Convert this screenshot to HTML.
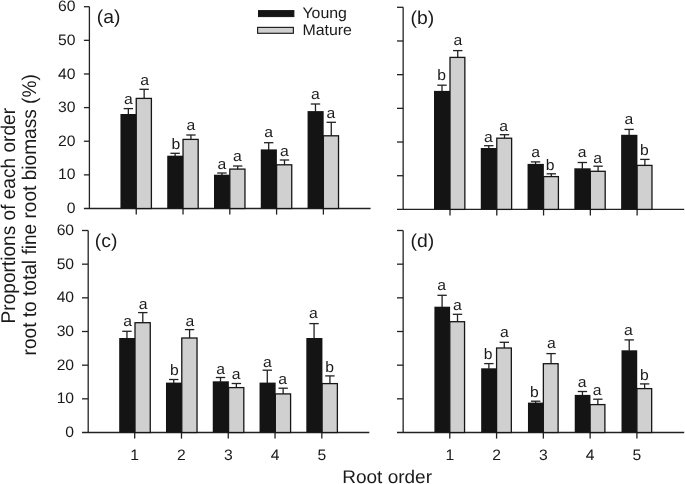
<!DOCTYPE html>
<html lang="en">
<head>
<meta charset="utf-8">
<title>Root order biomass proportions</title>
<style>
html,body{margin:0;padding:0;background:#fff;}
body{width:685px;height:484px;overflow:hidden;}
svg{display:block;}
text{font-family:"Liberation Sans", Arial, sans-serif;fill:#1a1a1a;text-rendering:geometricPrecision;}
.ln line{stroke:#222;stroke-width:1.3;fill:none;}
</style>
</head>
<body>
<svg width="685" height="484" viewBox="0 0 685 484">
<rect x="0" y="0" width="685" height="484" fill="#ffffff"/>
<g class="ln">
<line x1="128.35" y1="114.50" x2="128.35" y2="108.60"/>
<line x1="123.65" y1="108.60" x2="133.05" y2="108.60"/>
<line x1="144.15" y1="98.80" x2="144.15" y2="89.30"/>
<line x1="139.45" y1="89.30" x2="148.85" y2="89.30"/>
<line x1="175.13" y1="156.20" x2="175.13" y2="153.30"/>
<line x1="170.43" y1="153.30" x2="179.83" y2="153.30"/>
<line x1="190.93" y1="139.80" x2="190.93" y2="135.00"/>
<line x1="186.23" y1="135.00" x2="195.63" y2="135.00"/>
<line x1="221.91" y1="175.20" x2="221.91" y2="173.00"/>
<line x1="217.21" y1="173.00" x2="226.61" y2="173.00"/>
<line x1="237.71" y1="169.50" x2="237.71" y2="166.00"/>
<line x1="233.01" y1="166.00" x2="242.41" y2="166.00"/>
<line x1="268.69" y1="149.90" x2="268.69" y2="142.70"/>
<line x1="263.99" y1="142.70" x2="273.39" y2="142.70"/>
<line x1="284.49" y1="165.20" x2="284.49" y2="160.00"/>
<line x1="279.79" y1="160.00" x2="289.19" y2="160.00"/>
<line x1="315.47" y1="111.60" x2="315.47" y2="104.00"/>
<line x1="310.77" y1="104.00" x2="320.17" y2="104.00"/>
<line x1="331.27" y1="136.20" x2="331.27" y2="122.30"/>
<line x1="326.57" y1="122.30" x2="335.97" y2="122.30"/>
<line x1="89.40" y1="6.70" x2="89.40" y2="208.50"/>
<line x1="83.90" y1="208.50" x2="370.60" y2="208.50"/>
<line x1="83.90" y1="174.87" x2="89.40" y2="174.87"/>
<line x1="83.90" y1="141.23" x2="89.40" y2="141.23"/>
<line x1="83.90" y1="107.60" x2="89.40" y2="107.60"/>
<line x1="83.90" y1="73.97" x2="89.40" y2="73.97"/>
<line x1="83.90" y1="40.33" x2="89.40" y2="40.33"/>
<line x1="83.90" y1="6.70" x2="89.40" y2="6.70"/>
<line x1="136.25" y1="208.50" x2="136.25" y2="214.60"/>
<line x1="183.03" y1="208.50" x2="183.03" y2="214.60"/>
<line x1="229.81" y1="208.50" x2="229.81" y2="214.60"/>
<line x1="276.59" y1="208.50" x2="276.59" y2="214.60"/>
<line x1="323.37" y1="208.50" x2="323.37" y2="214.60"/>
<line x1="442.00" y1="91.40" x2="442.00" y2="85.20"/>
<line x1="437.30" y1="85.20" x2="446.70" y2="85.20"/>
<line x1="457.75" y1="57.80" x2="457.75" y2="50.60"/>
<line x1="453.05" y1="50.60" x2="462.45" y2="50.60"/>
<line x1="488.78" y1="148.50" x2="488.78" y2="145.70"/>
<line x1="484.08" y1="145.70" x2="493.48" y2="145.70"/>
<line x1="504.53" y1="138.60" x2="504.53" y2="134.70"/>
<line x1="499.83" y1="134.70" x2="509.23" y2="134.70"/>
<line x1="535.56" y1="164.40" x2="535.56" y2="161.90"/>
<line x1="530.86" y1="161.90" x2="540.26" y2="161.90"/>
<line x1="551.31" y1="177.00" x2="551.31" y2="173.80"/>
<line x1="546.61" y1="173.80" x2="556.01" y2="173.80"/>
<line x1="582.34" y1="168.80" x2="582.34" y2="162.50"/>
<line x1="577.64" y1="162.50" x2="587.04" y2="162.50"/>
<line x1="598.09" y1="171.70" x2="598.09" y2="166.20"/>
<line x1="593.39" y1="166.20" x2="602.79" y2="166.20"/>
<line x1="629.12" y1="135.30" x2="629.12" y2="129.40"/>
<line x1="624.42" y1="129.40" x2="633.82" y2="129.40"/>
<line x1="644.87" y1="165.80" x2="644.87" y2="159.40"/>
<line x1="640.17" y1="159.40" x2="649.57" y2="159.40"/>
<line x1="403.15" y1="7.30" x2="403.15" y2="209.40"/>
<line x1="397.00" y1="209.40" x2="684.20" y2="209.40"/>
<line x1="397.00" y1="175.72" x2="403.15" y2="175.72"/>
<line x1="397.00" y1="142.03" x2="403.15" y2="142.03"/>
<line x1="397.00" y1="108.35" x2="403.15" y2="108.35"/>
<line x1="397.00" y1="74.67" x2="403.15" y2="74.67"/>
<line x1="397.00" y1="40.98" x2="403.15" y2="40.98"/>
<line x1="397.00" y1="7.30" x2="403.15" y2="7.30"/>
<line x1="450.00" y1="209.40" x2="450.00" y2="215.50"/>
<line x1="496.78" y1="209.40" x2="496.78" y2="215.50"/>
<line x1="543.56" y1="209.40" x2="543.56" y2="215.50"/>
<line x1="590.34" y1="209.40" x2="590.34" y2="215.50"/>
<line x1="637.12" y1="209.40" x2="637.12" y2="215.50"/>
<line x1="126.95" y1="338.50" x2="126.95" y2="331.30"/>
<line x1="122.25" y1="331.30" x2="131.65" y2="331.30"/>
<line x1="142.80" y1="323.10" x2="142.80" y2="312.60"/>
<line x1="138.10" y1="312.60" x2="147.50" y2="312.60"/>
<line x1="173.73" y1="383.10" x2="173.73" y2="379.50"/>
<line x1="169.03" y1="379.50" x2="178.43" y2="379.50"/>
<line x1="189.58" y1="338.40" x2="189.58" y2="329.60"/>
<line x1="184.88" y1="329.60" x2="194.28" y2="329.60"/>
<line x1="220.51" y1="381.80" x2="220.51" y2="377.50"/>
<line x1="215.81" y1="377.50" x2="225.21" y2="377.50"/>
<line x1="236.36" y1="388.00" x2="236.36" y2="383.50"/>
<line x1="231.66" y1="383.50" x2="241.06" y2="383.50"/>
<line x1="267.29" y1="383.10" x2="267.29" y2="370.20"/>
<line x1="262.59" y1="370.20" x2="271.99" y2="370.20"/>
<line x1="283.14" y1="394.30" x2="283.14" y2="388.20"/>
<line x1="278.44" y1="388.20" x2="287.84" y2="388.20"/>
<line x1="314.07" y1="338.50" x2="314.07" y2="323.60"/>
<line x1="309.37" y1="323.60" x2="318.77" y2="323.60"/>
<line x1="329.92" y1="384.00" x2="329.92" y2="375.90"/>
<line x1="325.22" y1="375.90" x2="334.62" y2="375.90"/>
<line x1="88.20" y1="230.50" x2="88.20" y2="432.50"/>
<line x1="82.00" y1="432.50" x2="369.30" y2="432.50"/>
<line x1="82.00" y1="398.83" x2="88.20" y2="398.83"/>
<line x1="82.00" y1="365.17" x2="88.20" y2="365.17"/>
<line x1="82.00" y1="331.50" x2="88.20" y2="331.50"/>
<line x1="82.00" y1="297.83" x2="88.20" y2="297.83"/>
<line x1="82.00" y1="264.17" x2="88.20" y2="264.17"/>
<line x1="82.00" y1="230.50" x2="88.20" y2="230.50"/>
<line x1="134.70" y1="432.50" x2="134.70" y2="438.60"/>
<line x1="181.48" y1="432.50" x2="181.48" y2="438.60"/>
<line x1="228.26" y1="432.50" x2="228.26" y2="438.60"/>
<line x1="275.04" y1="432.50" x2="275.04" y2="438.60"/>
<line x1="321.82" y1="432.50" x2="321.82" y2="438.60"/>
<line x1="442.10" y1="307.20" x2="442.10" y2="295.30"/>
<line x1="437.40" y1="295.30" x2="446.80" y2="295.30"/>
<line x1="457.50" y1="322.10" x2="457.50" y2="314.30"/>
<line x1="452.80" y1="314.30" x2="462.20" y2="314.30"/>
<line x1="488.88" y1="368.80" x2="488.88" y2="363.60"/>
<line x1="484.18" y1="363.60" x2="493.58" y2="363.60"/>
<line x1="504.28" y1="348.40" x2="504.28" y2="342.30"/>
<line x1="499.58" y1="342.30" x2="508.98" y2="342.30"/>
<line x1="535.66" y1="403.10" x2="535.66" y2="401.20"/>
<line x1="530.96" y1="401.20" x2="540.36" y2="401.20"/>
<line x1="551.06" y1="364.10" x2="551.06" y2="353.60"/>
<line x1="546.36" y1="353.60" x2="555.76" y2="353.60"/>
<line x1="582.44" y1="395.40" x2="582.44" y2="391.50"/>
<line x1="577.74" y1="391.50" x2="587.14" y2="391.50"/>
<line x1="597.84" y1="405.00" x2="597.84" y2="399.20"/>
<line x1="593.14" y1="399.20" x2="602.54" y2="399.20"/>
<line x1="629.22" y1="350.80" x2="629.22" y2="339.90"/>
<line x1="624.52" y1="339.90" x2="633.92" y2="339.90"/>
<line x1="644.62" y1="389.00" x2="644.62" y2="383.90"/>
<line x1="639.92" y1="383.90" x2="649.32" y2="383.90"/>
<line x1="403.15" y1="230.50" x2="403.15" y2="432.50"/>
<line x1="397.00" y1="432.50" x2="684.20" y2="432.50"/>
<line x1="397.00" y1="398.83" x2="403.15" y2="398.83"/>
<line x1="397.00" y1="365.17" x2="403.15" y2="365.17"/>
<line x1="397.00" y1="331.50" x2="403.15" y2="331.50"/>
<line x1="397.00" y1="297.83" x2="403.15" y2="297.83"/>
<line x1="397.00" y1="264.17" x2="403.15" y2="264.17"/>
<line x1="397.00" y1="230.50" x2="403.15" y2="230.50"/>
<line x1="449.80" y1="432.50" x2="449.80" y2="438.60"/>
<line x1="496.58" y1="432.50" x2="496.58" y2="438.60"/>
<line x1="543.36" y1="432.50" x2="543.36" y2="438.60"/>
<line x1="590.14" y1="432.50" x2="590.14" y2="438.60"/>
<line x1="636.92" y1="432.50" x2="636.92" y2="438.60"/>
</g>
<g>
<rect x="120.45" y="114.00" width="16.10" height="94.50" fill="#141414"/>
<rect x="136.25" y="98.40" width="15.15" height="110.10" fill="#d0d0d0" stroke="#161616" stroke-width="1.3"/>
<rect x="167.23" y="155.70" width="16.10" height="52.80" fill="#141414"/>
<rect x="183.03" y="139.40" width="15.15" height="69.10" fill="#d0d0d0" stroke="#161616" stroke-width="1.3"/>
<rect x="214.01" y="174.70" width="16.10" height="33.80" fill="#141414"/>
<rect x="229.81" y="169.10" width="15.15" height="39.40" fill="#d0d0d0" stroke="#161616" stroke-width="1.3"/>
<rect x="260.79" y="149.40" width="16.10" height="59.10" fill="#141414"/>
<rect x="276.59" y="164.80" width="15.15" height="43.70" fill="#d0d0d0" stroke="#161616" stroke-width="1.3"/>
<rect x="307.57" y="111.10" width="16.10" height="97.40" fill="#141414"/>
<rect x="323.37" y="135.80" width="15.15" height="72.70" fill="#d0d0d0" stroke="#161616" stroke-width="1.3"/>
<rect x="434.00" y="90.90" width="16.30" height="118.50" fill="#141414"/>
<rect x="450.00" y="57.40" width="14.85" height="152.00" fill="#d0d0d0" stroke="#161616" stroke-width="1.3"/>
<rect x="480.78" y="148.00" width="16.30" height="61.40" fill="#141414"/>
<rect x="496.78" y="138.20" width="14.85" height="71.20" fill="#d0d0d0" stroke="#161616" stroke-width="1.3"/>
<rect x="527.56" y="163.90" width="16.30" height="45.50" fill="#141414"/>
<rect x="543.56" y="176.60" width="14.85" height="32.80" fill="#d0d0d0" stroke="#161616" stroke-width="1.3"/>
<rect x="574.34" y="168.30" width="16.30" height="41.10" fill="#141414"/>
<rect x="590.34" y="171.30" width="14.85" height="38.10" fill="#d0d0d0" stroke="#161616" stroke-width="1.3"/>
<rect x="621.12" y="134.80" width="16.30" height="74.60" fill="#141414"/>
<rect x="637.12" y="165.40" width="14.85" height="44.00" fill="#d0d0d0" stroke="#161616" stroke-width="1.3"/>
<rect x="119.20" y="338.00" width="16.10" height="94.50" fill="#141414"/>
<rect x="135.00" y="322.70" width="15.25" height="109.80" fill="#d0d0d0" stroke="#161616" stroke-width="1.3"/>
<rect x="165.98" y="382.60" width="16.10" height="49.90" fill="#141414"/>
<rect x="181.78" y="338.00" width="15.25" height="94.50" fill="#d0d0d0" stroke="#161616" stroke-width="1.3"/>
<rect x="212.76" y="381.30" width="16.10" height="51.20" fill="#141414"/>
<rect x="228.56" y="387.60" width="15.25" height="44.90" fill="#d0d0d0" stroke="#161616" stroke-width="1.3"/>
<rect x="259.54" y="382.60" width="16.10" height="49.90" fill="#141414"/>
<rect x="275.34" y="393.90" width="15.25" height="38.60" fill="#d0d0d0" stroke="#161616" stroke-width="1.3"/>
<rect x="306.32" y="338.00" width="16.10" height="94.50" fill="#141414"/>
<rect x="322.12" y="383.60" width="15.25" height="48.90" fill="#d0d0d0" stroke="#161616" stroke-width="1.3"/>
<rect x="434.40" y="306.70" width="15.70" height="125.80" fill="#141414"/>
<rect x="449.80" y="321.70" width="14.75" height="110.80" fill="#d0d0d0" stroke="#161616" stroke-width="1.3"/>
<rect x="481.18" y="368.30" width="15.70" height="64.20" fill="#141414"/>
<rect x="496.58" y="348.00" width="14.75" height="84.50" fill="#d0d0d0" stroke="#161616" stroke-width="1.3"/>
<rect x="527.96" y="402.60" width="15.70" height="29.90" fill="#141414"/>
<rect x="543.36" y="363.70" width="14.75" height="68.80" fill="#d0d0d0" stroke="#161616" stroke-width="1.3"/>
<rect x="574.74" y="394.90" width="15.70" height="37.60" fill="#141414"/>
<rect x="590.14" y="404.60" width="14.75" height="27.90" fill="#d0d0d0" stroke="#161616" stroke-width="1.3"/>
<rect x="621.52" y="350.30" width="15.70" height="82.20" fill="#141414"/>
<rect x="636.92" y="388.60" width="14.75" height="43.90" fill="#d0d0d0" stroke="#161616" stroke-width="1.3"/>
</g>
<g>
<rect x="258.5" y="10.6" width="35.4" height="6.0" fill="#141414" stroke="#141414" stroke-width="1"/>
<rect x="257.6" y="27.4" width="35.8" height="5.9" fill="#d0d0d0" stroke="#222" stroke-width="1.2"/>
</g>
<g>
<text transform="translate(128.35 104.30) scale(1.04 1)" font-size="15.1" text-anchor="middle">a</text>
<text transform="translate(144.55 84.70) scale(1.04 1)" font-size="15.1" text-anchor="middle">a</text>
<text transform="translate(175.93 148.90) scale(1.04 1)" font-size="15.1" text-anchor="middle">b</text>
<text transform="translate(190.93 130.00) scale(1.04 1)" font-size="15.1" text-anchor="middle">a</text>
<text transform="translate(221.91 168.80) scale(1.04 1)" font-size="15.1" text-anchor="middle">a</text>
<text transform="translate(237.31 161.20) scale(1.04 1)" font-size="15.1" text-anchor="middle">a</text>
<text transform="translate(268.69 137.30) scale(1.04 1)" font-size="15.1" text-anchor="middle">a</text>
<text transform="translate(284.49 156.20) scale(1.04 1)" font-size="15.1" text-anchor="middle">a</text>
<text transform="translate(315.47 99.20) scale(1.04 1)" font-size="15.1" text-anchor="middle">a</text>
<text transform="translate(330.87 117.50) scale(1.04 1)" font-size="15.1" text-anchor="middle">a</text>
<text transform="translate(75.50 213.10) scale(1.04 1)" font-size="15.1" text-anchor="end">0</text>
<text transform="translate(75.50 179.47) scale(1.04 1)" font-size="15.1" text-anchor="end">10</text>
<text transform="translate(75.50 145.83) scale(1.04 1)" font-size="15.1" text-anchor="end">20</text>
<text transform="translate(75.50 112.20) scale(1.04 1)" font-size="15.1" text-anchor="end">30</text>
<text transform="translate(75.50 78.57) scale(1.04 1)" font-size="15.1" text-anchor="end">40</text>
<text transform="translate(75.50 44.93) scale(1.04 1)" font-size="15.1" text-anchor="end">50</text>
<text transform="translate(75.50 11.30) scale(1.04 1)" font-size="15.1" text-anchor="end">60</text>
<text transform="translate(96.70 22.80) scale(1.04 1)" font-size="18.6" text-anchor="start">(a)</text>
<text transform="translate(441.60 79.80) scale(1.04 1)" font-size="15.1" text-anchor="middle">b</text>
<text transform="translate(457.75 45.40) scale(1.04 1)" font-size="15.1" text-anchor="middle">a</text>
<text transform="translate(488.48 141.70) scale(1.04 1)" font-size="15.1" text-anchor="middle">a</text>
<text transform="translate(503.73 130.50) scale(1.04 1)" font-size="15.1" text-anchor="middle">a</text>
<text transform="translate(535.56 157.10) scale(1.04 1)" font-size="15.1" text-anchor="middle">a</text>
<text transform="translate(550.21 169.50) scale(1.04 1)" font-size="15.1" text-anchor="middle">b</text>
<text transform="translate(582.14 157.10) scale(1.04 1)" font-size="15.1" text-anchor="middle">a</text>
<text transform="translate(597.59 162.80) scale(1.04 1)" font-size="15.1" text-anchor="middle">a</text>
<text transform="translate(628.92 124.00) scale(1.04 1)" font-size="15.1" text-anchor="middle">a</text>
<text transform="translate(644.47 155.00) scale(1.04 1)" font-size="15.1" text-anchor="middle">b</text>
<text transform="translate(410.60 23.60) scale(1.04 1)" font-size="18.6" text-anchor="start">(b)</text>
<text transform="translate(127.55 326.10) scale(1.04 1)" font-size="15.1" text-anchor="middle">a</text>
<text transform="translate(143.00 308.60) scale(1.04 1)" font-size="15.1" text-anchor="middle">a</text>
<text transform="translate(174.33 375.30) scale(1.04 1)" font-size="15.1" text-anchor="middle">b</text>
<text transform="translate(189.78 325.60) scale(1.04 1)" font-size="15.1" text-anchor="middle">a</text>
<text transform="translate(220.51 373.90) scale(1.04 1)" font-size="15.1" text-anchor="middle">a</text>
<text transform="translate(236.16 378.50) scale(1.04 1)" font-size="15.1" text-anchor="middle">a</text>
<text transform="translate(267.29 366.60) scale(1.04 1)" font-size="15.1" text-anchor="middle">a</text>
<text transform="translate(282.74 383.80) scale(1.04 1)" font-size="15.1" text-anchor="middle">a</text>
<text transform="translate(313.27 318.40) scale(1.04 1)" font-size="15.1" text-anchor="middle">a</text>
<text transform="translate(329.72 372.10) scale(1.04 1)" font-size="15.1" text-anchor="middle">b</text>
<text transform="translate(74.10 437.10) scale(1.04 1)" font-size="15.1" text-anchor="end">0</text>
<text transform="translate(74.10 403.43) scale(1.04 1)" font-size="15.1" text-anchor="end">10</text>
<text transform="translate(74.10 369.77) scale(1.04 1)" font-size="15.1" text-anchor="end">20</text>
<text transform="translate(74.10 336.10) scale(1.04 1)" font-size="15.1" text-anchor="end">30</text>
<text transform="translate(74.10 302.43) scale(1.04 1)" font-size="15.1" text-anchor="end">40</text>
<text transform="translate(74.10 268.77) scale(1.04 1)" font-size="15.1" text-anchor="end">50</text>
<text transform="translate(74.10 235.10) scale(1.04 1)" font-size="15.1" text-anchor="end">60</text>
<text transform="translate(134.70 459.70) scale(1.04 1)" font-size="15.1" text-anchor="middle">1</text>
<text transform="translate(181.48 459.70) scale(1.04 1)" font-size="15.1" text-anchor="middle">2</text>
<text transform="translate(228.26 459.70) scale(1.04 1)" font-size="15.1" text-anchor="middle">3</text>
<text transform="translate(275.04 459.70) scale(1.04 1)" font-size="15.1" text-anchor="middle">4</text>
<text transform="translate(321.82 459.70) scale(1.04 1)" font-size="15.1" text-anchor="middle">5</text>
<text transform="translate(94.80 247.20) scale(1.04 1)" font-size="18.6" text-anchor="start">(c)</text>
<text transform="translate(441.70 290.10) scale(1.04 1)" font-size="15.1" text-anchor="middle">a</text>
<text transform="translate(457.30 309.50) scale(1.04 1)" font-size="15.1" text-anchor="middle">a</text>
<text transform="translate(488.08 358.60) scale(1.04 1)" font-size="15.1" text-anchor="middle">b</text>
<text transform="translate(504.48 336.50) scale(1.04 1)" font-size="15.1" text-anchor="middle">a</text>
<text transform="translate(534.26 397.20) scale(1.04 1)" font-size="15.1" text-anchor="middle">b</text>
<text transform="translate(551.26 348.40) scale(1.04 1)" font-size="15.1" text-anchor="middle">a</text>
<text transform="translate(582.04 386.90) scale(1.04 1)" font-size="15.1" text-anchor="middle">a</text>
<text transform="translate(597.24 394.80) scale(1.04 1)" font-size="15.1" text-anchor="middle">a</text>
<text transform="translate(628.42 334.50) scale(1.04 1)" font-size="15.1" text-anchor="middle">a</text>
<text transform="translate(644.42 379.50) scale(1.04 1)" font-size="15.1" text-anchor="middle">b</text>
<text transform="translate(449.80 459.70) scale(1.04 1)" font-size="15.1" text-anchor="middle">1</text>
<text transform="translate(496.58 459.70) scale(1.04 1)" font-size="15.1" text-anchor="middle">2</text>
<text transform="translate(543.36 459.70) scale(1.04 1)" font-size="15.1" text-anchor="middle">3</text>
<text transform="translate(590.14 459.70) scale(1.04 1)" font-size="15.1" text-anchor="middle">4</text>
<text transform="translate(636.92 459.70) scale(1.04 1)" font-size="15.1" text-anchor="middle">5</text>
<text transform="translate(410.60 246.60) scale(1.04 1)" font-size="18.6" text-anchor="start">(d)</text>
<text transform="translate(302.40 18.00) scale(1.04 1)" font-size="15.3" text-anchor="start">Young</text>
<text transform="translate(302.40 34.80) scale(1.04 1)" font-size="15.3" text-anchor="start">Mature</text>
<text transform="translate(14.60 215.70) scale(1.04 1) rotate(-90)" font-size="19.1" text-anchor="middle">Proportions of each order</text>
<text transform="translate(36.10 214.80) scale(1.04 1) rotate(-90)" font-size="19.1" text-anchor="middle">root to total fine root biomass (%)</text>
<text transform="translate(387.10 483.00) scale(1.04 1)" font-size="18.3" text-anchor="middle">Root order</text>
</g>
</svg>
</body>
</html>
